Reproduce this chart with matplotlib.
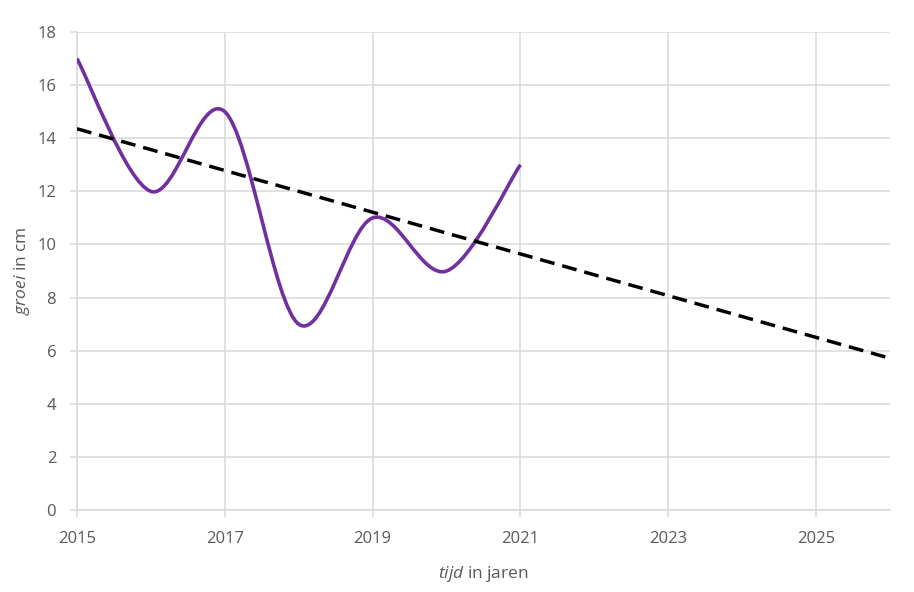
import numpy as np
import matplotlib
matplotlib.use("Agg")
import matplotlib.pyplot as plt
from matplotlib.path import Path
from matplotlib.patches import PathPatch

# data
jaren = [2015, 2016, 2017, 2018, 2019, 2020, 2021]
groei = [17, 12, 15, 7, 11, 9, 13]
x_ticks = [2015, 2017, 2019, 2021, 2023, 2025]
y_ticks = [0, 2, 4, 6, 8, 10, 12, 14, 16, 18]
trend_end = 2026

plt.rcParams["font.family"] = ["Open Sans", "DejaVu Sans"]
plt.rcParams["mathtext.fontset"] = "custom"
plt.rcParams["mathtext.it"] = "Open Sans:italic"
plt.rcParams["mathtext.rm"] = "Open Sans"

GRID = "#d9d9d9"
TEXT = "#595959"

fig = plt.figure(figsize=(9.14, 5.92), dpi=100)
ax = fig.add_axes([0.0842, 0.1385, 0.8895, 0.8074])

# smooth line (Excel-style bezier through the points)
x = np.array(jaren, dtype=float)
y = np.array(groei, dtype=float)
pts = np.column_stack([x, y])
verts = [pts[0]]
codes = [Path.MOVETO]
n = len(pts)
for i in range(n - 1):
    p_prev = pts[max(i - 1, 0)]
    p0 = pts[i]
    p1 = pts[i + 1]
    p_next = pts[min(i + 2, n - 1)]
    c1 = p0 + (p1 - p_prev) / 6
    c2 = p1 - (p_next - p0) / 6
    verts += [c1, c2, p1]
    codes += [Path.CURVE4] * 3
ax.add_patch(PathPatch(Path(verts, codes), facecolor="none",
                       edgecolor="#7030A0", lw=2.6, zorder=3,
                       capstyle="butt"))

# linear trend line
slope, intercept = np.polyfit(x, y, 1)
tx = np.array([jaren[0], trend_end])
ax.plot(tx, slope * tx + intercept, color="black", lw=2.5,
        dashes=(4.3, 2.3), zorder=4)

ax.set_xlim(2015, trend_end)
ax.set_ylim(0, 18)
ax.set_xticks(x_ticks)
ax.set_yticks(y_ticks)
ax.grid(True, color=GRID, lw=1.1)
ax.set_axisbelow(True)
for s in ["top", "right"]:
    ax.spines[s].set_visible(False)
for s in ["left", "bottom"]:
    ax.spines[s].set_color(GRID)
    ax.spines[s].set_linewidth(1.1)
ax.tick_params(colors=GRID, labelcolor=TEXT, labelsize=12, length=5,
               width=1.1)
ax.tick_params(axis="x", pad=10)
ax.tick_params(axis="y", pad=10)

ax.set_xlabel(r"$\it{tijd}$ in jaren", color=TEXT, fontsize=12.5, labelpad=12)
ax.set_ylabel(r"$\it{groei}$ in cm", color=TEXT, fontsize=12.5, labelpad=4)

fig.savefig("out.png", dpi=100)
